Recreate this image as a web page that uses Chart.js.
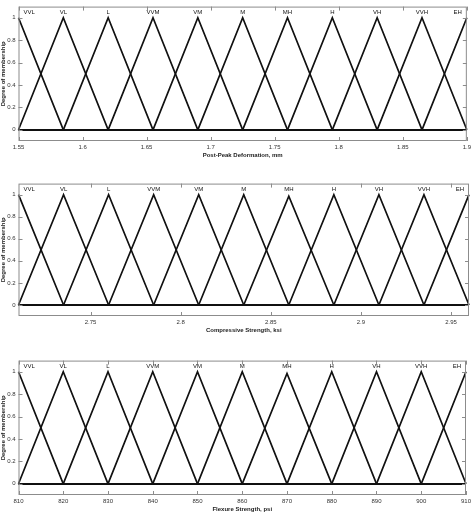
<!DOCTYPE html>
<html>
<head>
<meta charset="utf-8">
<script src="https://cdn.jsdelivr.net/npm/chart.js@4.4.1/dist/chart.umd.min.js"></script>
<style>
  html, body { margin: 0; padding: 0; background: #fff; }
  body { width: 474px; height: 515px; position: relative; overflow: hidden; }
  .panel { position: absolute; left: 0; width: 474px; }
</style>
</head>
<body>
<div class="panel" style="top:0px;height:161px"><canvas id="c1"></canvas></div>
<div class="panel" style="top:177px;height:159px"><canvas id="c2"></canvas></div>
<div class="panel" style="top:354px;height:161px"><canvas id="c3"></canvas></div>
<script>
// linguistic terms, same for all three variables
const terms = ['VVL', 'VL', 'L', 'VVM', 'VM', 'M', 'MH', 'H', 'VH', 'VVH', 'EH'];

// peak positions of each triangular set
const deformPeaks = [1.55, 1.585, 1.62, 1.655, 1.69, 1.725, 1.76, 1.795, 1.83, 1.865, 1.9];
const compPeaks = [2.71, 2.735, 2.76, 2.785, 2.81, 2.835, 2.86, 2.885, 2.91, 2.935, 2.96];
const flexPeaks = [810, 820, 830, 840, 850, 860, 870, 880, 890, 900, 910];

// peak heights (MH is slightly short in the lower two plots)
const deformHeights = [1, 1, 1, 1, 1, 1, 1, 1, 1, 1, 1];
const compHeights = [1, 1, 1, 1, 1, 1, 0.985, 1, 1, 1, 1];
const flexHeights = [1, 1, 1, 1, 1, 1, 0.985, 1, 1, 1, 1];

// axis ticks
const deformTicks = [1.55, 1.6, 1.65, 1.7, 1.75, 1.8, 1.85, 1.9];
const compTicks = [2.75, 2.8, 2.85, 2.9, 2.95];
const flexTicks = [810, 820, 830, 840, 850, 860, 870, 880, 890, 900, 910];
const yTicks = [0, 0.2, 0.4, 0.6, 0.8, 1];

const FONT = 'Liberation Sans, Arial, sans-serif';

// one triangle per term: zero outside its neighbours, spans the full range
function buildSets(peaks, heights) {
  const lo = peaks[0], hi = peaks[peaks.length - 1];
  return peaks.map((c, i) => {
    const pts = [];
    if (i > 0) {
      pts.push({ x: lo, y: 0 });
      pts.push({ x: peaks[i - 1], y: 0 });
    }
    pts.push({ x: c, y: heights[i] });
    if (i < peaks.length - 1) {
      pts.push({ x: peaks[i + 1], y: 0 });
      pts.push({ x: hi, y: 0 });
    }
    return {
      label: terms[i],
      data: pts,
      showLine: true,
      borderColor: '#111',
      borderWidth: 1.7,
      pointRadius: 0,
      tension: 0,
      clip: 2
    };
  });
}

// box, inward ticks on all four sides, term labels above the peaks
const boxPlugin = {
  id: 'boxPlugin',
  afterDraw(chart) {
    const { ctx, chartArea: a, scales } = chart;
    ctx.save();
    ctx.strokeStyle = '#8c8c8c';
    ctx.lineWidth = 1;
    ctx.strokeRect(a.left + 0.5, a.top + 0.5, a.right - a.left - 1, a.bottom - a.top - 1);
    ctx.beginPath();
    scales.x.ticks.forEach(t => {
      const px = Math.round(scales.x.getPixelForValue(t.value)) + 0.5;
      ctx.moveTo(px, a.bottom); ctx.lineTo(px, a.bottom - 4);
      ctx.moveTo(px, a.top); ctx.lineTo(px, a.top + 4);
    });
    scales.y.ticks.forEach(t => {
      const py = Math.round(scales.y.getPixelForValue(t.value)) + 0.5;
      ctx.moveTo(a.left, py); ctx.lineTo(a.left + 4, py);
      ctx.moveTo(a.right, py); ctx.lineTo(a.right - 4, py);
    });
    ctx.stroke();

    ctx.fillStyle = '#111';
    ctx.font = '6px ' + FONT;
    ctx.textAlign = 'center';
    ctx.textBaseline = 'middle';
    const py = scales.y.getPixelForValue(1.045);
    chart.data.datasets.forEach(ds => {
      const peak = ds.data.reduce((m, p) => (p.y > m.y ? p : m), ds.data[0]);
      const w = ctx.measureText(ds.label).width;
      let px = scales.x.getPixelForValue(peak.x);
      px = Math.max(a.left + 5 + w / 2, Math.min(a.right - 5 - w / 2, px));
      ctx.fillText(ds.label, px, py);
    });
    ctx.restore();
  }
};

function makeChart(id, peaks, heights, ticks, xmin, xmax, title, padTop) {
  new Chart(document.getElementById(id), {
    type: 'scatter',
    data: { datasets: buildSets(peaks, heights) },
    options: {
      responsive: true,
      maintainAspectRatio: false,
      animation: false,
      layout: { padding: { top: padTop, right: 5, left: 0, bottom: 0 } },
      plugins: { legend: { display: false }, tooltip: { enabled: false } },
      scales: {
        x: {
          type: 'linear',
          min: xmin,
          max: xmax,
          grid: { display: false, drawTicks: false },
          border: { display: false },
          afterBuildTicks: s => { s.ticks = ticks.map(v => ({ value: v })); },
          afterFit: s => { s.height = 20; },
          ticks: {
            padding: 3,
            maxRotation: 0,
            autoSkip: false,
            color: '#333',
            font: { family: FONT, size: 6 },
            callback: v => String(+v.toFixed(3))
          },
          title: {
            display: true,
            text: title,
            color: '#222',
            padding: { top: 0, bottom: 2 },
            font: { family: FONT, size: 6, weight: 'bold' }
          }
        },
        y: {
          min: -0.1,
          max: 1.1,
          grid: { display: false, drawTicks: false },
          border: { display: false },
          afterBuildTicks: s => { s.ticks = yTicks.map(v => ({ value: v })); },
          afterFit: s => { s.width = 18.5; },
          ticks: {
            padding: 3,
            autoSkip: false,
            color: '#333',
            font: { family: FONT, size: 6 },
            callback: v => String(+v.toFixed(1))
          },
          title: {
            display: true,
            text: 'Degree of membership',
            color: '#222',
            padding: { top: 0, bottom: 0 },
            font: { family: FONT, size: 6, weight: 'bold' }
          }
        }
      }
    },
    plugins: [boxPlugin]
  });
}

makeChart('c1', deformPeaks, deformHeights, deformTicks, 1.55, 1.9, 'Post-Peak Deformation, mm', 1);
makeChart('c2', compPeaks, compHeights, compTicks, 2.71, 2.96, 'Compressive Strength, ksi', 1);
makeChart('c3', flexPeaks, flexHeights, flexTicks, 810, 910, 'Flexure Strength, psi', 1.5);
</script>
</body>
</html>
